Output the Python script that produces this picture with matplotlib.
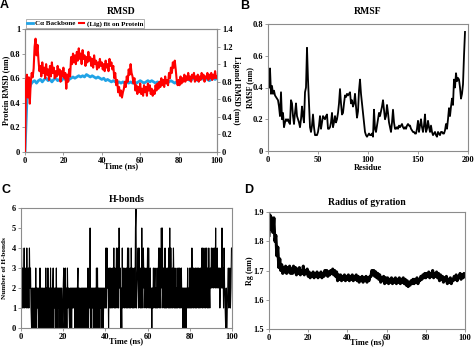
"""Four-panel MD summary: RMSD, RMSF, H-bond count and radius of gyration."""

import matplotlib

matplotlib.use("Agg")
import matplotlib.pyplot as plt
from matplotlib.ticker import FuncFormatter, MultipleLocator

# keep every zigzag of the noisy traces
plt.rcParams["path.simplify"] = False

SERIF = "Liberation Serif"
SANS = "Liberation Sans"
FRAME = "#8c8c8c"

# --- RMSD (ns) -------------------------------------------------------------
T_BACKBONE = list(range(0, 101))
BACKBONE_RMSD = [
    0.00, 0.42, 0.50, 0.55, 0.57, 0.58, 0.56, 0.58, 0.59, 0.57,
    0.59, 0.60, 0.58, 0.59, 0.57, 0.59, 0.60, 0.58, 0.59, 0.58,
    0.60, 0.59, 0.58, 0.59, 0.60, 0.61, 0.60, 0.61, 0.62, 0.61,
    0.62, 0.61, 0.63, 0.62, 0.61, 0.62, 0.61, 0.60, 0.61, 0.60,
    0.59, 0.60, 0.58, 0.59, 0.58, 0.57, 0.58, 0.57, 0.56, 0.57,
    0.56, 0.57, 0.56, 0.57, 0.56, 0.57, 0.56, 0.57, 0.56, 0.57,
    0.58, 0.57, 0.56, 0.57, 0.58, 0.57, 0.58, 0.57, 0.56, 0.57,
    0.56, 0.57, 0.58, 0.57, 0.56, 0.57, 0.58, 0.57, 0.56, 0.57,
    0.58, 0.59, 0.58, 0.59, 0.60, 0.59, 0.58, 0.59, 0.60, 0.59,
    0.58, 0.59, 0.60, 0.59, 0.60, 0.59, 0.58, 0.59, 0.60, 0.59,
    0.60,
]

T_LIGAND = [i * 0.5 for i in range(201)]
LIGAND_RMSD = [
    0.00, 0.80, 0.88, 0.62, 0.85, 0.55, 0.80, 0.90, 0.85, 0.95,
    1.20, 1.29, 1.10, 1.22, 1.05, 0.92, 0.98, 0.86, 1.02, 0.90,
    0.96, 0.84, 1.00, 0.88, 0.94, 0.82, 0.98, 0.86, 1.02, 0.90,
    0.96, 0.84, 0.92, 0.86, 0.98, 0.88, 0.94, 0.80, 0.92, 0.86,
    0.96, 0.84, 0.90, 0.72, 0.88, 0.80, 0.94, 0.86, 1.08, 1.00,
    1.12, 1.02, 1.10, 1.00, 1.14, 1.04, 1.18, 1.06, 1.12, 1.00,
    1.16, 1.06, 1.10, 0.98, 1.08, 1.02, 1.14, 1.04, 1.08, 0.98,
    1.06, 0.96, 1.10, 1.00, 1.04, 0.94, 1.02, 0.96, 1.06, 0.98,
    1.02, 0.94, 1.00, 0.92, 1.04, 0.96, 1.00, 0.92, 1.06, 0.98,
    1.02, 0.94, 0.98, 0.84, 0.90, 0.76, 0.82, 0.68, 0.74, 0.64,
    0.70, 0.62, 0.68, 0.72, 0.80, 0.74, 0.86, 0.80, 0.94, 0.88,
    1.00, 0.90, 0.86, 0.78, 0.84, 0.70, 0.76, 0.66, 0.74, 0.68,
    0.78, 0.66, 0.72, 0.64, 0.76, 0.68, 0.74, 0.64, 0.78, 0.70,
    0.76, 0.66, 0.72, 0.64, 0.70, 0.66, 0.76, 0.70, 0.78, 0.72,
    0.80, 0.74, 0.84, 0.76, 0.82, 0.74, 0.86, 0.78, 0.82, 0.76,
    0.90, 0.84, 0.96, 0.90, 1.02, 0.96, 1.04, 0.94, 0.82, 0.76,
    0.82, 0.76, 0.86, 0.78, 0.84, 0.80, 0.88, 0.80, 0.86, 0.82,
    0.90, 0.82, 0.86, 0.80, 0.88, 0.84, 0.90, 0.80, 0.86, 0.82,
    0.88, 0.80, 0.86, 0.82, 0.90, 0.84, 0.88, 0.80, 0.86, 0.84,
    0.90, 0.82, 0.88, 0.84, 0.90, 0.82, 0.88, 0.84, 0.92, 0.84,
    0.86,
]

# --- RMSF per residue ------------------------------------------------------
RESIDUE = list(range(1, 198))
RMSF = [
    0.40, 0.52, 0.36, 0.41, 0.36, 0.38, 0.35, 0.34, 0.33, 0.32,
    0.28, 0.22, 0.37, 0.20, 0.24, 0.15, 0.18, 0.20, 0.19, 0.20,
    0.18, 0.17, 0.32, 0.30, 0.22, 0.17, 0.24, 0.30, 0.22, 0.20,
    0.18, 0.15, 0.20, 0.28, 0.22, 0.18, 0.37, 0.40, 0.65, 0.45,
    0.30, 0.15, 0.12, 0.16, 0.23, 0.15, 0.10, 0.10, 0.10, 0.12,
    0.16, 0.22, 0.14, 0.18, 0.22, 0.21, 0.20, 0.22, 0.23, 0.14,
    0.14, 0.15, 0.18, 0.24, 0.15, 0.18, 0.22, 0.18, 0.20, 0.24,
    0.30, 0.39, 0.30, 0.23, 0.24, 0.30, 0.35, 0.34, 0.36, 0.35,
    0.36, 0.37, 0.30, 0.32, 0.28, 0.30, 0.36, 0.28, 0.21, 0.25,
    0.38, 0.45, 0.36, 0.30, 0.24, 0.18, 0.12, 0.10, 0.09, 0.10,
    0.11, 0.10, 0.10, 0.11, 0.09, 0.26, 0.14, 0.12, 0.16, 0.20,
    0.24, 0.22, 0.25, 0.28, 0.32, 0.26, 0.20, 0.22, 0.29, 0.24,
    0.18, 0.15, 0.12, 0.18, 0.26, 0.18, 0.14, 0.14, 0.15, 0.14,
    0.16, 0.15, 0.16, 0.17, 0.15, 0.14, 0.15, 0.14, 0.16, 0.17,
    0.16, 0.16, 0.14, 0.13, 0.12, 0.12, 0.11, 0.11, 0.14, 0.19,
    0.12, 0.16, 0.20, 0.15, 0.12, 0.16, 0.23, 0.12, 0.14, 0.19,
    0.15, 0.12, 0.16, 0.12, 0.10, 0.11, 0.12, 0.10, 0.09, 0.12,
    0.11, 0.10, 0.12, 0.12, 0.11, 0.11, 0.13, 0.17, 0.14, 0.20,
    0.27, 0.22, 0.28, 0.33, 0.29, 0.45, 0.40, 0.49, 0.44, 0.46,
    0.45, 0.40, 0.33, 0.36, 0.42, 0.60, 0.75,
]

# --- hydrogen bonds, one frame every 0.25 ns -------------------------------
T_HBOND = [i * 0.25 for i in range(401)]
HBONDS = [
    2, 4, 1, 3, 1, 2, 4, 1, 3, 2, 1, 4, 2, 1, 3, 1, 4, 2, 3, 1,
    0, 2, 0, 2, 1, 0, 2, 0, 3, 0, 2, 1, 2, 0, 2, 0, 3, 0, 2, 0,
    2, 0, 2, 1, 0, 2, 0, 3, 0, 2, 0, 3, 1, 0, 2, 0, 3, 0, 2, 0,
    2, 3, 0, 2, 1, 2, 0, 3, 0, 2, 0, 2, 1, 2, 0, 2, 0, 2, 1, 0,
    2, 3, 0, 2, 3, 0, 2, 0, 3, 1, 2, 1, 0, 2, 0, 2, 0, 2, 1, 2,
    1, 2, 0, 2, 0, 2, 0, 2, 3, 0, 2, 0, 2, 1, 0, 2, 0, 2, 0, 2,
    0, 2, 0, 2, 0, 2, 0, 3, 0, 2, 1, 5, 0, 2, 0, 2, 1, 2, 0, 2,
    0, 2, 0, 3, 0, 3, 0, 2, 0, 2, 1, 2, 0, 2, 0, 2, 0, 2, 1, 2,
    1, 4, 1, 4, 2, 3, 0, 2, 3, 1, 3, 1, 2, 3, 1, 2, 4, 1, 3, 1,
    2, 4, 1, 3, 4, 1, 5, 2, 3, 0, 2, 0, 4, 1, 3, 2, 1, 3, 2, 1,
    3, 1, 4, 1, 4, 2, 1, 3, 1, 4, 2, 1, 3, 1, 2, 3, 1, 5, 6, 1,
    2, 3, 4, 1, 4, 2, 1, 3, 1, 5, 2, 1, 4, 2, 3, 1, 2, 3, 1, 2,
    4, 1, 4, 2, 1, 3, 1, 2, 0, 2, 1, 3, 1, 2, 3, 1, 2, 1, 3, 1,
    2, 4, 1, 4, 2, 1, 5, 2, 5, 1, 3, 2, 1, 4, 1, 3, 1, 2, 3, 1,
    4, 1, 5, 1, 4, 2, 1, 3, 1, 4, 2, 1, 3, 1, 2, 1, 3, 1, 2, 3,
    1, 3, 1, 2, 3, 1, 2, 0, 2, 0, 2, 0, 2, 0, 2, 1, 3, 1, 2, 1,
    3, 1, 3, 1, 4, 2, 1, 3, 1, 2, 3, 1, 3, 1, 2, 3, 1, 3, 1, 2,
    3, 1, 2, 4, 1, 4, 2, 1, 3, 4, 1, 2, 4, 1, 3, 1, 4, 2, 1, 3,
    2, 4, 2, 3, 4, 2, 3, 4, 2, 5, 2, 3, 4, 2, 3, 2, 3, 1, 2, 3,
    2, 5, 2, 3, 1, 4, 2, 1, 0, 2, 0, 1, 2, 3, 1, 2, 3, 1, 2, 4,
    4,
]

# --- radius of gyration, every 0.5 ns ---------------------------------------
T_RG = [i * 0.5 for i in range(201)]
RG = [
    1.82, 1.89, 1.84, 1.88, 1.83, 1.88, 1.80, 1.82, 1.75, 1.78,
    1.71, 1.74, 1.70, 1.72, 1.69, 1.71, 1.695, 1.715, 1.69, 1.71,
    1.695, 1.715, 1.69, 1.705, 1.69, 1.715, 1.695, 1.71, 1.685, 1.705,
    1.69, 1.71, 1.685, 1.70, 1.69, 1.715, 1.685, 1.70, 1.69, 1.705,
    1.68, 1.695, 1.675, 1.69, 1.68, 1.695, 1.675, 1.69, 1.68, 1.695,
    1.675, 1.69, 1.68, 1.695, 1.675, 1.69, 1.68, 1.70, 1.685, 1.70,
    1.68, 1.695, 1.685, 1.70, 1.69, 1.705, 1.685, 1.70, 1.68, 1.695,
    1.665, 1.685, 1.67, 1.685, 1.665, 1.68, 1.67, 1.685, 1.665, 1.68,
    1.67, 1.685, 1.665, 1.68, 1.67, 1.685, 1.665, 1.68, 1.67, 1.685,
    1.665, 1.68, 1.66, 1.675, 1.665, 1.68, 1.66, 1.675, 1.665, 1.68,
    1.66, 1.675, 1.665, 1.68, 1.68, 1.70, 1.685, 1.70, 1.68, 1.695,
    1.675, 1.69, 1.67, 1.685, 1.66, 1.675, 1.665, 1.68, 1.655, 1.675,
    1.66, 1.675, 1.655, 1.67, 1.66, 1.675, 1.655, 1.67, 1.66, 1.675,
    1.655, 1.67, 1.66, 1.675, 1.655, 1.67, 1.66, 1.675, 1.655, 1.67,
    1.65, 1.665, 1.645, 1.66, 1.65, 1.665, 1.655, 1.67, 1.655, 1.67,
    1.66, 1.675, 1.655, 1.67, 1.665, 1.68, 1.67, 1.685, 1.675, 1.69,
    1.675, 1.69, 1.68, 1.695, 1.675, 1.69, 1.68, 1.70, 1.675, 1.69,
    1.68, 1.695, 1.675, 1.69, 1.665, 1.685, 1.67, 1.68, 1.66, 1.675,
    1.665, 1.68, 1.655, 1.67, 1.66, 1.675, 1.655, 1.67, 1.665, 1.68,
    1.67, 1.685, 1.665, 1.68, 1.675, 1.69, 1.67, 1.685, 1.675, 1.69,
    1.68,
]

W, H = 474, 349


def trim(v, _):
    return f"{v:g}"


def box(l, t, r, b):
    # pixel box (left, top, right, bottom) -> figure fractions
    return [l / W, 1 - b / H, (r - l) / W, (b - t) / H]


def style(ax, fs=6):
    for s in ax.spines.values():
        s.set_color(FRAME)
        s.set_linewidth(0.8)
    ax.tick_params(direction="out", length=2, width=0.6, color=FRAME,
                   labelsize=fs, pad=1.5)
    for lab in ax.get_xticklabels() + ax.get_yticklabels():
        lab.set_fontfamily(SERIF)
        lab.set_fontweight("bold")
    ax.yaxis.set_major_formatter(FuncFormatter(trim))


def labels(fig, ax, title, xlabel, ylabel, title_y, ylab_x, xlab_y):
    # title/label positions given in figure pixels
    bb = ax.get_position()
    fig.text(bb.x0 + bb.width / 2, 1 - title_y / H, title, family=SERIF,
             weight="bold", size=7, ha="center", va="center")
    ax.set_xlabel(xlabel, family=SERIF, weight="bold", size=6)
    ax.xaxis.set_label_coords(0.5, (1 - xlab_y / H - bb.y0) / bb.height)
    ax.xaxis.label.set_va("center")
    ax.set_ylabel(ylabel, family=SERIF, weight="bold", size=5.8)
    ax.yaxis.set_label_coords((ylab_x / W - bb.x0) / bb.width, 0.5)
    ax.yaxis.label.set_va("center")


def main() -> None:
    fig = plt.figure(figsize=(W / 100, H / 100), dpi=100)

    # A: RMSD, protein on the left axis, ligand on the right one
    ax = fig.add_axes(box(25, 29, 217, 152))
    ax.plot(T_BACKBONE, BACKBONE_RMSD, color="#21a3e6", lw=2.0,
            label="C\u03b1 Backbone", zorder=2)
    ax.set_xlim(0, 100)
    ax.set_ylim(0, 1)
    ax.xaxis.set_major_locator(MultipleLocator(20))
    ax.yaxis.set_major_locator(MultipleLocator(0.2))
    labels(fig, ax, "RMSD", "Time (ns)", "Protein RMSD (nm)", 12, 6, 166)
    axr = ax.twinx()
    axr.plot(T_LIGAND, LIGAND_RMSD, color="#ff0000", lw=1.5,
             label="(Lig) fit on Protein", zorder=3)
    axr.set_ylim(0, 1.4)
    axr.yaxis.set_major_locator(MultipleLocator(0.2))
    axr.set_ylabel("Ligand RMSD (nm)", family=SERIF, weight="bold", size=5.8,
                   rotation=270, va="center")
    bb = axr.get_position()
    axr.yaxis.set_label_coords((236 / W - bb.x0) / bb.width, 0.5)
    style(ax)
    style(axr)
    h1, l1 = ax.get_legend_handles_labels()
    h2, l2 = axr.get_legend_handles_labels()
    leg = ax.legend(h1 + h2, l1 + l2, loc="lower left", bbox_to_anchor=(0.0, 1.0),
                    ncol=2, frameon=True, fancybox=False, borderpad=0.2,
                    handlelength=0.8, handletextpad=0.3, columnspacing=0.5,
                    borderaxespad=0.15,
                    prop={"family": SERIF, "weight": "bold", "size": 5})
    leg.get_frame().set_edgecolor(FRAME)
    leg.get_frame().set_linewidth(0.6)

    # B: RMSF
    ax = fig.add_axes(box(268, 24, 468, 151))
    ax.plot(RESIDUE, RMSF, color="black", lw=1.3)
    ax.set_xlim(0, 200)
    ax.set_ylim(0, 0.8)
    ax.xaxis.set_major_locator(MultipleLocator(50))
    ax.yaxis.set_major_locator(MultipleLocator(0.2))
    labels(fig, ax, "RMSF", "Residue", "RMSF (nm)", 12, 250, 168)
    style(ax)

    # C: H-bond count
    ax = fig.add_axes(box(21, 208, 232, 328))
    ax.plot(T_HBOND, HBONDS, color="black", lw=0.8)
    ax.set_xlim(0, 100)
    ax.set_ylim(0, 6)
    ax.xaxis.set_major_locator(MultipleLocator(20))
    ax.yaxis.set_major_locator(MultipleLocator(1))
    labels(fig, ax, "H-bonds", "Time (ns)", "Number of H-bonds", 200, 5, 341)
    ax.yaxis.label.set_size(5.2)
    style(ax)

    # D: radius of gyration
    ax = fig.add_axes(box(269, 212, 465, 329))
    ax.plot(T_RG, RG, color="black", lw=2.2)
    ax.set_xlim(0, 100)
    ax.set_ylim(1.5, 1.9)
    ax.xaxis.set_major_locator(MultipleLocator(20))
    ax.yaxis.set_major_locator(MultipleLocator(0.1))
    labels(fig, ax, "Radius of gyration", "Time (ns)", "Rg (nm)", 203, 250, 342)
    style(ax)

    for letter, x, y in [("A", 0, 5), ("B", 240, 6), ("C", 2, 190), ("D", 244, 190)]:
        fig.text(x / W, 1 - y / H, letter, family=SANS, weight="bold",
                 size=9, va="center", ha="left")

    fig.savefig("out.png", dpi=100)


if __name__ == "__main__":
    main()
